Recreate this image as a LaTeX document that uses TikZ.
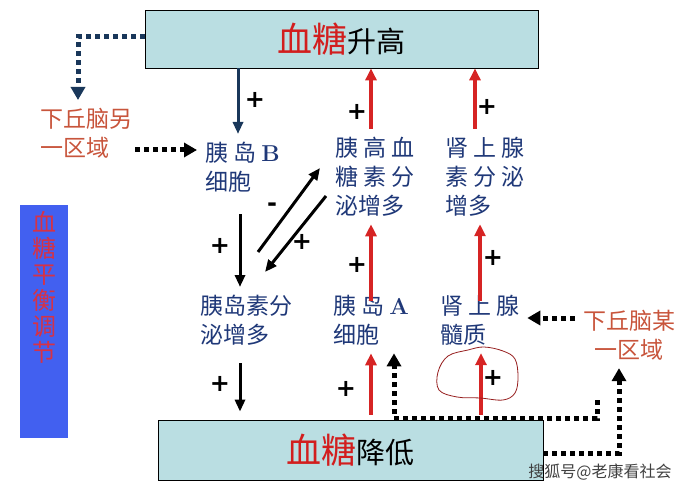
\documentclass[tikz,border=0pt]{standalone}
\usepackage{fontspec}
\newfontfamily\cjk{Noto Sans CJK SC}
\newfontfamily\signfont{DejaVu Sans}
\usetikzlibrary{arrows.meta}

\definecolor{boxfill}{RGB}{186,222,226}
\definecolor{barblue}{RGB}{66,96,240}
\definecolor{barred}{RGB}{214,50,70}
\definecolor{navytext}{RGB}{31,56,120}
\definecolor{hypotext}{RGB}{200,85,60}
\definecolor{sugarred}{RGB}{210,30,30}
\definecolor{arrowred}{RGB}{214,36,36}
\definecolor{arrownavy}{RGB}{25,55,90}
\definecolor{loopred}{RGB}{150,30,30}

\tikzset{
  level/.style={draw=black, line width=0.8pt, fill=boxfill, inner sep=0pt, font=\cjk},
  txt/.style={anchor=north west, align=left, inner sep=0pt, outer sep=8pt,
    text=navytext, font=\cjk\fontsize{23}{29}\selectfont},
  hypo/.style={txt, text=hypotext},
  sign/.style={inner sep=0pt, font=\signfont\bfseries\fontsize{24}{24}\selectfont},
  redup/.style={draw=arrowred, line width=3.5pt, -{Triangle[length=12pt,width=11pt]}},
  blk/.style={line width=3pt, -{Triangle[length=12pt,width=10pt]}},
  dots/.style={line width=5pt, dash pattern=on 5pt off 4pt, -{Triangle[length=13pt,width=14pt]}},
}

\begin{document}
\begin{tikzpicture}[x=1pt,y=-1pt]
\useasboundingbox (0,0) rectangle (683,492);

% blood sugar levels
\node[level, minimum width=393pt, minimum height=58pt] (high) at (341.5,39)
  {{\color{sugarred}\fontsize{35}{35}\selectfont 血糖}\fontsize{29}{29}\selectfont 升高};
\node[level, minimum width=385pt, minimum height=60pt] (low) at (350.5,450)
  {{\color{sugarred}\fontsize{35}{35}\selectfont 血糖}\fontsize{29}{29}\selectfont 降低};

% side title
\node[fill=barblue, minimum width=48pt, minimum height=233pt, inner sep=0pt] (bar) at (44,321.5) {};
\node[inner sep=0pt, text=barred, align=center, font=\cjk\fontsize{24}{26}\selectfont, anchor=north]
  (title) at (44,211) {血\\糖\\平\\衡\\调\\节};

% text nodes
\node[hypo] (hypoA) at (32,100) {下丘脑另\\一区域};
\node[hypo, align=center] (hypoB) at (575,302) {下丘脑某\\一区域};
\node[txt] (bcell) at (197,134) {胰 岛 {\normalfont\bfseries B}\\细胞};
\node[txt] (glucagon) at (327,129) {胰 高 血\\糖 素 分\\泌增多};
\node[txt] (adren) at (437,129) {肾 上 腺\\素 分 泌\\增多};
\node[txt] (insulin) at (192,287) {胰岛素分\\泌增多};
\node[txt] (acell) at (325,287) {胰 岛 {\normalfont\bfseries A}\\细胞};
\node[txt] (medulla) at (432,287) {肾 上 腺\\髓质};

% upper half
\draw[blk, draw=arrownavy] (high.south -| 238,0) -- (bcell.north -| 238,0);
\draw[redup] (glucagon.north -| 371,0) -- (high.south -| 371,0);
\draw[redup] (adren.north -| 475,0) -- (high.south -| 475,0);
\node[sign] (p1) at (255,100) {+};
\node[sign] (p2) at (357,112) {+};
\node[sign] (p3) at (487,107) {+};

\draw[dots, draw=arrownavy] (high.west |- 0,37) -| (hypoA.north -| 78,0);
\draw[dots] (135,150) -- (bcell.west |- 0,150);

% middle
\draw[blk, shorten <=14pt] (bcell.south -| 240,0) -- (insulin.north -| 240,0);
\coordinate (u1) at (258,252);
\coordinate (u2) at (320,168);
\coordinate (d1) at (326,196);
\coordinate (d2) at (265,272);
\draw[blk] (u1) -- (u2);
\draw[blk] (d1) -- (d2);
\node[sign] (p4) at (220,246) {+};
\node[sign] (m1) at (272,207) {-};
\node[sign] (p5) at (302,242) {+};

\draw[redup, shorten <=-14pt] (acell.north -| 371,0) -- (glucagon.south -| 371,0);
\draw[redup, shorten <=-14pt] (medulla.north -| 480,0) -- (adren.south -| 480,0);
\node[sign] (p6) at (357,265) {+};
\node[sign] (p7) at (493,258) {+};

\draw[dots] (hypoB.west |- 0,318) -- (medulla.east |- 0,318);

% lower half
\draw[blk, shorten <=10pt, shorten >=8pt] (insulin.south -| 240,0) -- (low.north -| 240,0);
\node[sign] (p8) at (220,384) {+};
\draw[redup, shorten <=5pt] (low.north -| 371,0) -- (acell.south -| 371,0);
\draw[redup, shorten <=5pt] (low.north -| 481,0) -- (medulla.south -| 481,0);
\node[sign] (p9) at (346,389) {+};
\node[sign] (p10) at (493,378) {+};

\coordinate (step) at (597,400);
\draw[dots] (step) -- (597,418) -- (394,418) -- (acell.south -| 394,0);
\draw[dots] (low.east |- 0,453) -| (hypoB.south -| 619,0);

% hand-drawn ring
\draw[loopred, line width=0.8pt] plot[smooth cycle, tension=0.6] coordinates
  {(438,372) (448,356) (468,350) (484,347) (503,351) (515,359) (518,377)
   (515,393) (503,400) (480,398) (457,397) (439,390)};

\node[inner sep=0pt, text=black!75, font=\cjk\fontsize{16}{16}\selectfont] (mark) at (600,472) {搜狐号@老康看社会};
\end{tikzpicture}
\end{document}
